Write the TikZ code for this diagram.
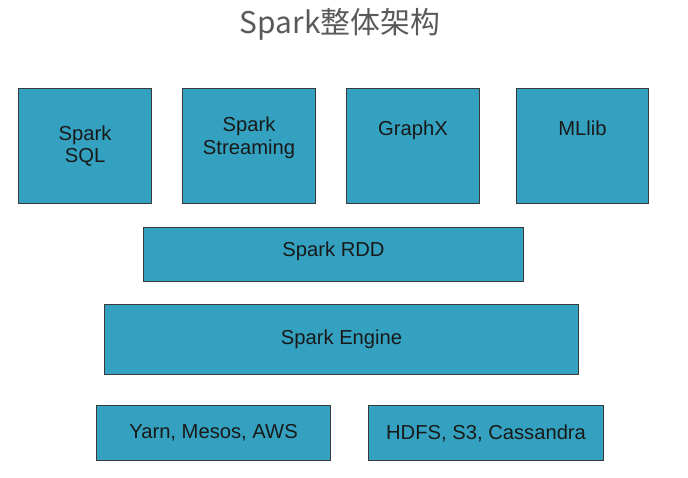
\documentclass[tikz,border=0pt]{standalone}
\usepackage{fontspec}
\setmainfont{Liberation Sans}
\newfontfamily\cjk{Noto Sans CJK SC}
\usetikzlibrary{positioning}
\definecolor{sparkteal}{HTML}{33A1BF}
\definecolor{edgegray}{HTML}{3A3A3A}
\definecolor{titlegray}{HTML}{595959}

\begin{document}
\begin{tikzpicture}[
    x=0.02cm, y=-0.02cm,
    every node/.style={font=\fontsize{11.5}{13}\selectfont, text=black!90},
    layer/.style 2 args={
        draw=edgegray, fill=sparkteal, line width=0.6pt,
        minimum width=#1*0.02cm, minimum height=#2*0.02cm,
        inner sep=1pt, align=center, anchor=north west
    },
]
\useasboundingbox (0,0) rectangle (688,477);

% Title
\node[font=\cjk\fontsize{17}{20}\selectfont, text=titlegray] (title) at (340,24) {Spark整体架构};

% Libraries
\node[layer={133}{115}] (sql) at (18,88) {Spark\\SQL};
\node[layer={133}{115}, text depth=12pt] (streaming) at (182,88) {Spark\\Streaming};
\node[layer={133}{115}, text depth=20pt] (graphx) at (346,88) {GraphX};
\node[layer={132}{115}, text depth=20pt] (mllib) at (516,88) {MLlib};

% Core
\node[layer={380}{54}, text depth=6pt] (rdd) at (143,227) {Spark RDD};
\node[layer={474}{70}] (engine) at (104,304) {Spark Engine};

% Cluster and storage
\node[layer={234}{55}] (cluster) at (96,405) {Yarn, Mesos, AWS};
\node[layer={235}{55}] (storage) at (368,405) {HDFS, S3, Cassandra};

\end{tikzpicture}
\end{document}
